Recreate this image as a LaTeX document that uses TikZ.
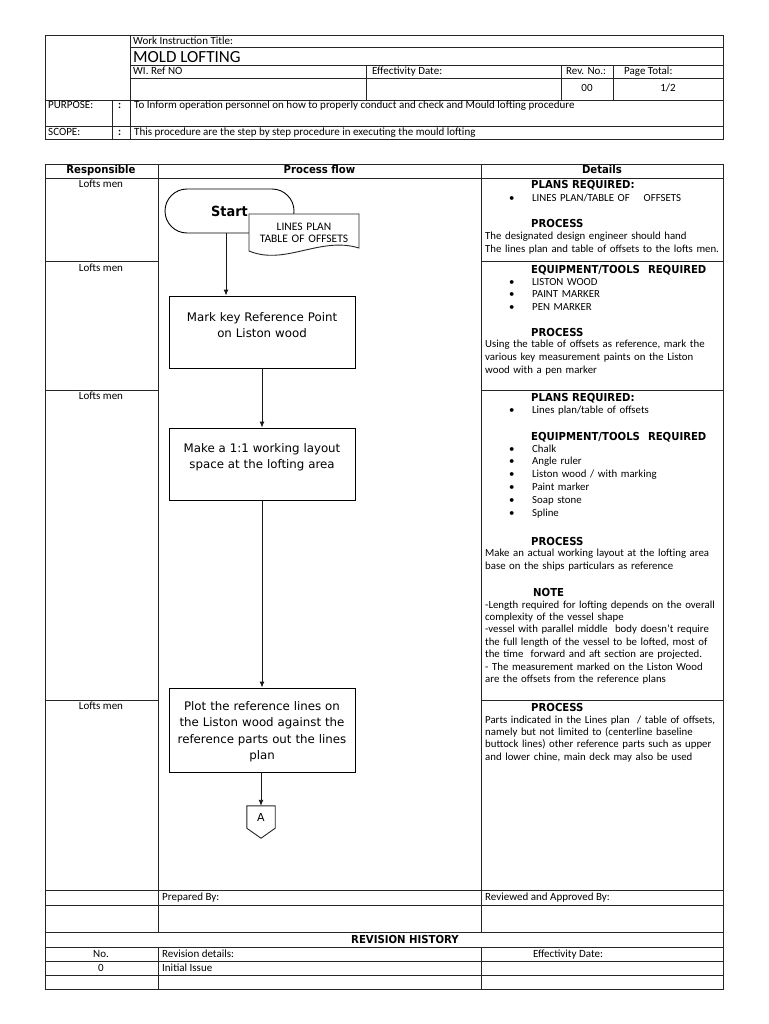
\documentclass[tikz,border=0pt]{standalone}
\usepackage{fontspec}
\setmainfont{Carlito}
\newfontfamily\flowfont{DejaVu Sans}
\newfontfamily\headfont{DejaVu Sans}[FakeStretch=0.92]
\usetikzlibrary{arrows.meta}
\tikzset{
  tl/.style={line width=0.9pt, draw=black!85},
  tx/.style={inner sep=0pt, anchor=base west, font=\fontsize{11}{12.4}\selectfont},
  txc/.style={inner sep=0pt, anchor=base, font=\fontsize{11}{12.4}\selectfont},
  hd/.style={inner sep=0pt, anchor=base west, font=\headfont\bfseries\fontsize{11}{13}\selectfont},
  hdc/.style={hd, anchor=base},
  para/.style={inner sep=0pt, anchor=base west, align=left, text width=260pt, font=\fontsize{10.8}{12.4}\selectfont},
  blist/.style={para, font=\fontsize{10.8}{12.9}\selectfont},
  flowbox/.style={draw, line width=0.9pt, minimum width=186pt, inner sep=0pt},
  flowtxt/.style={inner sep=0pt, anchor=base, align=center, text width=186pt, font=\flowfont\fontsize{11.8}{16.5}\selectfont},
  arr/.style={line width=0.9pt, draw=black!90, -{Latex[length=6pt,width=5pt]}},
}
\begin{document}
\begin{tikzpicture}[x=1pt,y=-1pt]
\useasboundingbox (0,0) rectangle (768,1024);
\fill[white] (0,0) rectangle (768,1024);

% ---------- header table ----------
\draw[tl] (45,35) rectangle (723,139);
\draw[tl] (130,35) -- (130,139);
\draw[tl] (112,100) -- (112,139);
\draw[tl] (130,47) -- (723,47);
\draw[tl] (130,65) -- (723,65);
\draw[tl] (130,78) -- (723,78);
\draw[tl] (45,100) -- (723,100);
\draw[tl] (45,126) -- (723,126);
\draw[tl] (366,65) -- (366,100);
\draw[tl] (561,65) -- (561,100);
\draw[tl] (613,65) -- (613,100);

\node[tx] (wit) at (133,45) {Work Instruction Title:};
\node[tx, font=\fontsize{17}{19}\selectfont] (title) at (133,62.5) {MOLD LOFTING};
\node[tx] (wiref) at (133,75) {WI. Ref NO};
\node[tx] (effd) at (372,75) {Effectivity Date:};
\node[tx] (revno) at (566,75) {Rev. No.:};
\node[tx] (pgt) at (624,75) {Page Total:};
\node[txc] (rev00) at (587,92) {00};
\node[txc] (pg12) at (668,92) {1/2};
\node[tx] (purp) at (48,109) {PURPOSE:};
\node[tx] (pc) at (118,109) {\textbf{:}};
\node[tx] (purpt) at (134,109) {To Inform operation personnel on how to properly conduct and check and Mould lofting procedure};
\node[tx] (scope) at (48,136) {SCOPE:};
\node[tx] (sc) at (118,136) {\textbf{:}};
\node[tx] (scopet) at (134,136) {This procedure are the step by step procedure in executing the mould lofting};

% ---------- main table ----------
\draw[tl] (45,164) rectangle (723,989);
\draw[tl] (158,164) -- (158,932);
\draw[tl] (481,164) -- (481,932);
\draw[tl] (158,947) -- (158,989);
\draw[tl] (481,947) -- (481,989);
\draw[tl] (45,178) -- (723,178);
\foreach \yy in {261,390,700} {
  \draw[tl] (45,\yy) -- (158,\yy);
  \draw[tl] (481,\yy) -- (723,\yy);
}
\foreach \yy in {890,905,932,947,961,975} {
  \draw[tl] (45,\yy) -- (723,\yy);
}

\node[hdc] (hresp) at (101,174) {Responsible};
\node[hdc] (hflow) at (319.5,174) {Process flow};
\node[hdc] (hdet) at (602,174) {Details};

\node[txc] (r1) at (101,188) {Lofts men};
\node[txc] (r2) at (101,271) {Lofts men};
\node[txc] (r3) at (101,399) {Lofts men};
\node[txc] (r4) at (101,709) {Lofts men};

% ---------- details ----------
\node[hd] (d1a) at (531,189) {PLANS REQUIRED:};
\node[blist, text width=10pt] (d1b) at (509,202) {•};
\node[blist] (d1c) at (532,202) {LINES PLAN/TABLE OF\hspace{14pt}OFFSETS};
\node[hd] (d1d) at (531,227) {PROCESS};
\node[para] (d1e) at (485,240) {The designated design engineer should hand\\The lines plan and table of offsets to the lofts men.};

\node[hd] (d2a) at (531,273) {EQUIPMENT/TOOLS\hspace{8pt}REQUIRED};
\node[blist, text width=10pt] (d2b) at (509,285) {•\\•\\•};
\node[blist] (d2c) at (532,285) {LISTON WOOD\\PAINT MARKER\\PEN MARKER};
\node[hd] (d2d) at (531,336) {PROCESS};
\node[para, font=\fontsize{10.8}{13}\selectfont] (d2e) at (485,347) {Using the table of offsets as reference, mark the\\various key measurement paints on the Liston\\wood with a pen marker};

\node[hd] (d3a) at (531,401) {PLANS REQUIRED:};
\node[blist, text width=10pt] (d3b) at (509,413) {•};
\node[blist] (d3c) at (532,413) {Lines plan/table of offsets};
\node[hd] (d3d) at (531,440) {EQUIPMENT/TOOLS\hspace{8pt}REQUIRED};
\node[blist, text width=10pt] (d3e) at (509,452) {•\\•\\•\\•\\•\\•};
\node[blist] (d3f) at (532,452) {Chalk\\Angle ruler\\Liston wood / with marking\\Paint marker\\Soap stone\\Spline};
\node[hd] (d3g) at (531,545) {PROCESS};
\node[para, font=\fontsize{10.8}{13}\selectfont] (d3h) at (485,556) {Make an actual working layout at the lofting area\\base on the ships particulars as reference};
\node[hd] (d3i) at (533,596) {NOTE};
\node[para] (d3j) at (485,608) {-Length required for lofting depends on the overall\\complexity of the vessel shape\\-vessel with parallel middle\ \ body doesn't require\\the full length of the vessel to be lofted, most of\\the time\ \ forward and aft section are projected.\\- The measurement marked on the Liston Wood\\are the offsets from the reference plans};

\node[hd] (d4a) at (531,711) {PROCESS};
\node[para] (d4b) at (485,723) {Parts indicated in the Lines plan\ \ / table of offsets,\\namely but not limited to (centerline baseline\\buttock lines) other reference parts such as upper\\and lower chine, main deck may also be used};

% ---------- footer ----------
\node[tx] (prep) at (162,900) {Prepared By:};
\node[tx] (revd) at (485,900) {Reviewed and Approved By:};
\node[hdc] (rh) at (405,943.5) {REVISION HISTORY};
\node[txc] (no) at (101,957.5) {No.};
\node[tx] (rdet) at (162,957.5) {Revision details:};
\node[txc] (edate) at (568,957.5) {Effectivity Date:};
\node[txc] (zero) at (101,971.5) {0};
\node[tx] (init) at (162,971.5) {Initial Issue};

% ---------- process flow ----------
\node[draw, line width=0.9pt, rounded corners=22pt, minimum width=129pt, minimum height=44pt, inner sep=0pt, font=\headfont\bfseries\fontsize{14}{16}\selectfont] (start) at (229.5,211) {Start};
\filldraw[tl, fill=white] (249,214) -- (359,214) -- (359,248) .. controls (320,236) and (285,266) .. (249,251) -- cycle;
\node[inner sep=0pt, anchor=base, align=center, text width=110pt, font=\fontsize{11.5}{12}\selectfont] (doc) at (304,230) {LINES PLAN\\TABLE OF OFFSETS};

\node[flowbox, minimum height=72pt] (b1) at (262,332) {};
\node[flowtxt] (t1) at (262,321) {Mark key Reference Point\\on Liston wood};
\node[flowbox, minimum height=72pt] (b2) at (262,464) {};
\node[flowtxt] (t2) at (262,452) {Make a 1:1 working layout\\space at the lofting area};
\node[flowbox, minimum height=84pt] (b3) at (262,730) {};
\node[flowtxt] (t3) at (262,710) {Plot the reference lines on\\the Liston wood against the\\reference parts out the lines\\plan};

\node[inner sep=0pt, minimum width=28pt, minimum height=22pt, font=\flowfont\fontsize{11}{13}\selectfont] (conA) at (261,817) {A};
\draw[tl] (conA.north west) -- (conA.north east) -- (conA.south east) -- ([yshift=-10pt]conA.south) -- (conA.south west) -- cycle;

\draw[arr] ([xshift=-3.5pt]start.south) -- ([xshift=-3.5pt]start.south |- b1.north);
\draw[arr] (b1.south) -- (b2.north);
\draw[arr] (b2.south) -- (b3.north);
\draw[arr] (b3.south -| conA.north) -- (conA.north);
\end{tikzpicture}
\end{document}
